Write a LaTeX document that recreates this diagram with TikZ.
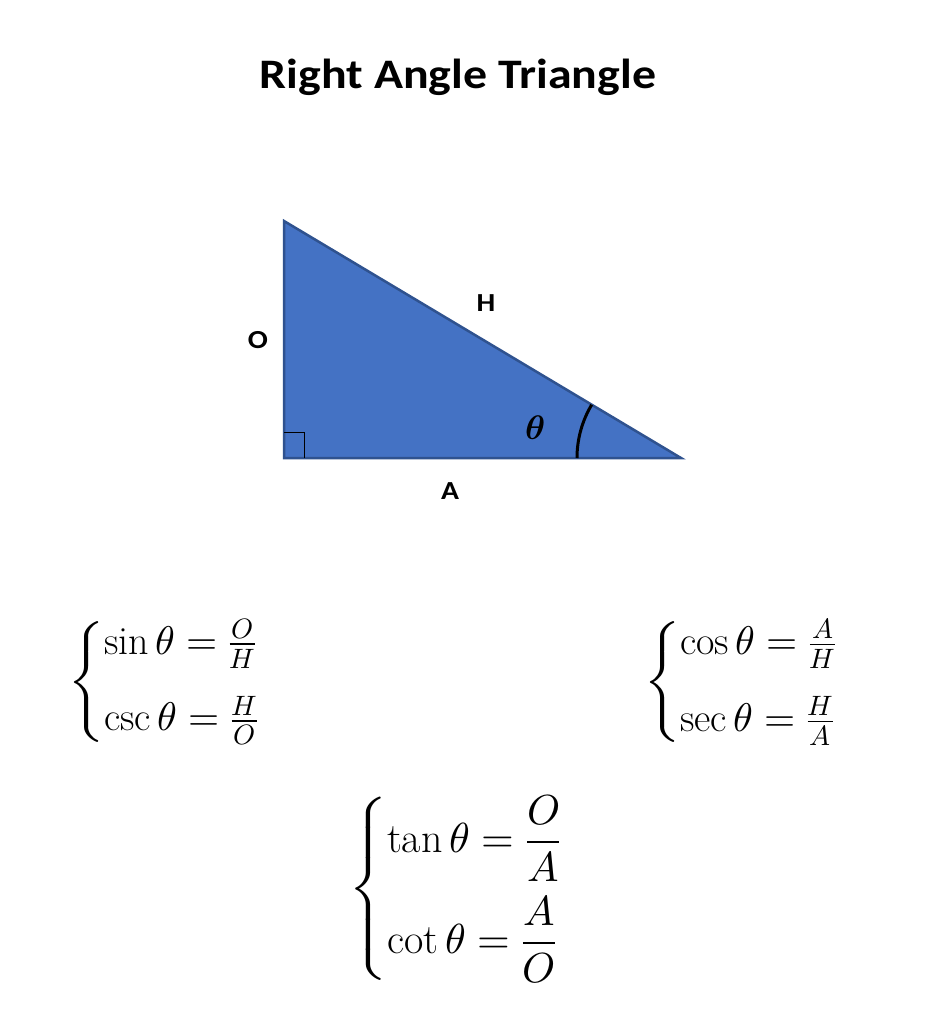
\documentclass[tikz,border=0pt]{standalone}
\usepackage{amsmath}
\usepackage{fontspec}
\usepackage{unicode-math}
\setmathfont{Latin Modern Math}
\newfontfamily\calib{Carlito}
\definecolor{trifill}{HTML}{4472C4}
\definecolor{triedge}{HTML}{2F528F}
\newcommand{\wide}[1]{\scalebox{1.14}[1]{#1}}
\begin{document}
\begin{tikzpicture}[x=1pt,y=-1pt,
  lbl/.style={font=\calib\bfseries\fontsize{26}{30}\selectfont, inner sep=0pt},
  eqsmall/.style={font=\fontsize{40}{46}\selectfont, inner sep=0pt, anchor=west},
  eqbig/.style={font=\fontsize{42}{48}\selectfont, inner sep=0pt, anchor=west}]
\useasboundingbox (0,0) rectangle (935,1028);
\fill[white] (0,0) rectangle (935,1028);
\node[font=\calib\bfseries\fontsize{42}{48}\selectfont, inner sep=0pt] (title) at (458,77) {\wide{Right Angle Triangle}};
\coordinate (T) at (284,221);
\coordinate (B) at (284,458);
\coordinate (R) at (681,458);
\filldraw[fill=trifill, draw=triedge, line width=2.5pt, line join=miter] (T) -- (B) -- (R) -- cycle;
\draw[black, line width=0.8pt] (284,432) -- (304,432) -- (304,458);
\draw[black, line width=3pt] (577,458) arc[start angle=180, end angle=210.8, radius=104];
\node[inner sep=0pt, font=\fontsize{34}{38}\selectfont] (theta) at (535,428) {$\symbfit{\theta}$};
\node[lbl] (H) at (486,303) {\wide{H}};
\node[lbl] (O) at (258,340) {\wide{O}};
\node[lbl] (A) at (450,491) {\wide{A}};
\node[eqsmall] (eq1) at (68,682) {$\left\{\begin{array}{@{}l@{}}\sin\theta=\frac{O}{H}\\[28pt]\csc\theta=\frac{H}{O}\end{array}\right.$};
\node[eqsmall] (eq2) at (644,682) {$\left\{\begin{array}{@{}l@{}}\cos\theta=\frac{A}{H}\\[28pt]\sec\theta=\frac{H}{A}\end{array}\right.$};
\node[eqbig] (eq3) at (349,889) {$\left\{\begin{array}{@{}l@{}}\tan\theta=\dfrac{O}{A}\\[28pt]\cot\theta=\dfrac{A}{O}\end{array}\right.$};
\end{tikzpicture}
\end{document}
